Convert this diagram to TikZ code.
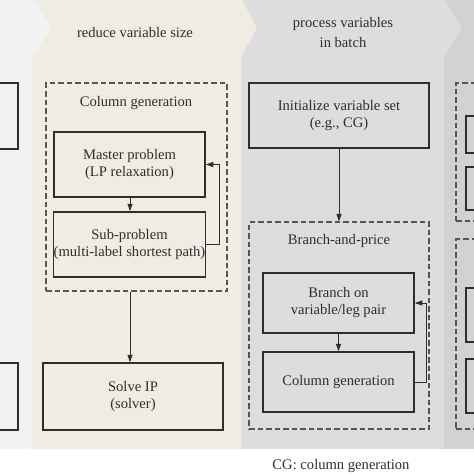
\documentclass[tikz,border=0pt]{standalone}
\usepackage{fontspec}
\setmainfont{Liberation Serif}
\usetikzlibrary{arrows.meta}
\definecolor{pleft}{HTML}{F2F2F2}
\definecolor{pbeige}{HTML}{EEECE3}
\definecolor{pgray}{HTML}{DDDDDD}
\definecolor{pright}{HTML}{D2D2D2}
\definecolor{ink}{HTML}{2E2E2E}
\definecolor{dashink}{HTML}{555555}
\tikzset{
  box/.style={draw=ink, line width=1.5pt, inner sep=0pt, align=center, text=ink},
  dbox/.style={draw=dashink, line width=1.1pt, dash pattern=on 5.5pt off 3pt, inner sep=0pt},
  lbl/.style={text=ink, align=center, inner sep=0pt},
  arr/.style={draw=ink, line width=0.9pt, -{Triangle[length=7.5pt,width=5pt]}},
  ln/.style={draw=ink, line width=0.9pt}
}
\begin{document}
\begin{tikzpicture}[x=1pt,y=-1pt,font=\fontsize{14.6}{17}\selectfont]
\useasboundingbox (0,0) rectangle (474,474);
\begin{scope}
\clip (0,0) rectangle (474,474);
% panels
\fill[pright] (440,0) rectangle (474,449);
\fill[pgray] (240,0) -- (445,0) -- (462,28) -- (444,57) -- (444,449) -- (240,449) -- cycle;
\fill[pbeige] (30,0) -- (242,0) -- (257,28) -- (241,57) -- (241,449) -- (30,449) -- cycle;
\fill[pleft] (0,0) -- (33,0) -- (52,28) -- (32,57) -- (32,449) -- (0,449) -- cycle;

% headers
\node[lbl] (h1) at (135,33) {reduce variable size};
\node[lbl] (h2) at (343,33) {process variables\\[3pt]in batch};

% left panel partial boxes
\node[box, minimum width=40pt, minimum height=66pt] (l1) at (-2,116) {};
\node[box, minimum width=40pt, minimum height=67pt] (l2) at (-2,396.5) {};

% beige panel
\node[dbox, minimum width=181pt, minimum height=208pt] (cgd) at (136.5,187) {};
\node[lbl] (cgt) at (136,103) {Column generation};
\node[box, minimum width=151pt, minimum height=65pt] (master) at (129.5,164.5) {Master problem\\(LP relaxation)};
\node[box, minimum width=151pt, minimum height=65pt] (sub) at (129.5,244.5) {Sub-problem\\(multi-label shortest path)};
\node[box, minimum width=180pt, minimum height=67pt] (solve) at (133,396.5) {Solve IP\\(solver)};
\draw[arr] (master.south -| 130,0) -- (sub.north -| 130,0);
\draw[arr] (cgd.south -| 130,0) -- (solve.north -| 130,0);
\draw[arr] (sub.east) -- ++(13,0) |- (master.east);

% gray panel
\node[box, minimum width=180pt, minimum height=65pt] (init) at (339,115.5) {Initialize variable set\\(e.g., CG)};
\node[dbox, minimum width=180pt, minimum height=207pt] (bpd) at (339,325.5) {};
\node[lbl] (bpt) at (339,241) {Branch-and-price};
\node[box, minimum width=151pt, minimum height=60pt] (branch) at (338.5,303) {Branch on\\variable/leg pair};
\node[box, minimum width=151pt, minimum height=60pt] (cg) at (338.5,382) {Column generation};
\draw[arr] (init.south) -- (bpd.north);
\draw[arr] (branch.south) -- (cg.north);
\draw[arr] (cg.east) -- ++(12,0) |- (branch.east);

% right panel partial
\node[dbox, minimum width=60pt, minimum height=138pt] (r1) at (486,152) {};
\node[box, minimum width=60pt, minimum height=37pt] (r1a) at (496,134.5) {};
\node[box, minimum width=60pt, minimum height=43pt] (r1b) at (496,188.5) {};
\node[dbox, minimum width=60pt, minimum height=190pt] (r2) at (486,334) {};
\node[box, minimum width=60pt, minimum height=54pt] (r2a) at (496,315) {};
\node[box, minimum width=60pt, minimum height=54pt] (r2b) at (496,386) {};

% caption
\node[lbl] (cap) at (341,466) {CG: column generation};
\end{scope}
\end{tikzpicture}
\end{document}
